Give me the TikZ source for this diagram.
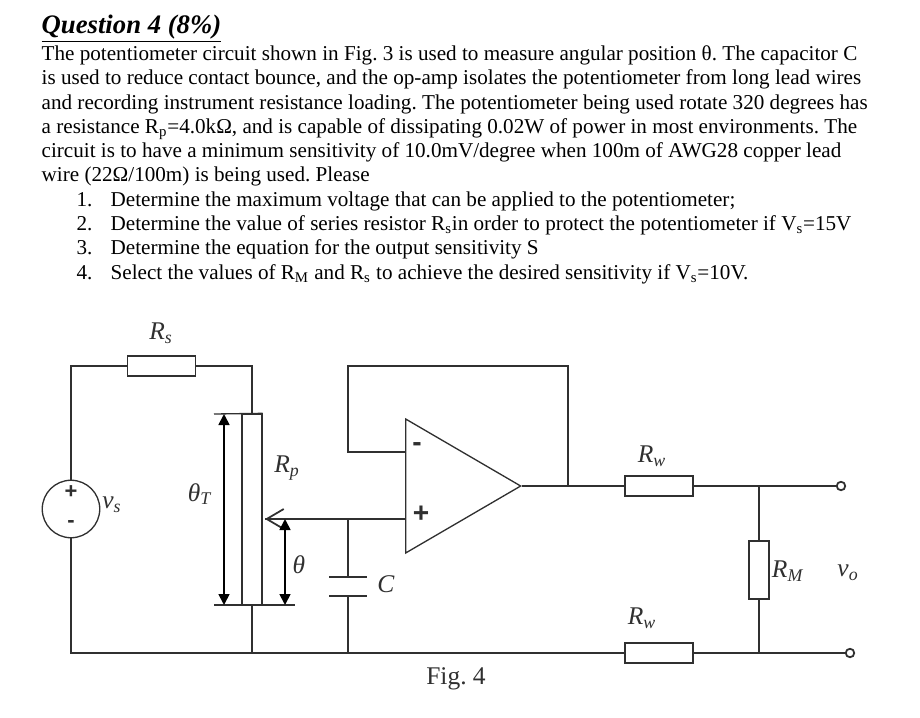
\documentclass[tikz,border=0pt]{standalone}
\usepackage{fontspec}
\setmainfont{Liberation Serif}
\setsansfont{Liberation Sans}
\usepackage{tikz}
\usetikzlibrary{arrows.meta, shapes.geometric}
\definecolor{wirecol}{HTML}{303030}
\newcommand{\lab}[2]{\textit{#1}\textsubscript{\textit{#2}}}

\begin{document}
\frenchspacing
\begin{tikzpicture}
	[%
	x=0.2mm, y=-0.2mm, line width=0.75pt, draw=wirecol,%
	line/.style    ={anchor=base west,	inner sep=0pt,	font=\fontsize{12.03}{15}\selectfont},%
	res/.style     ={rectangle,	draw=wirecol,	fill=white,	inner sep=0pt,	minimum width=13.6mm,	minimum height=4mm},%
	value/.style   ={inner sep=0pt,	text=wirecol,	font=\fontsize{14.5}{17}\selectfont},%
	sign/.style    ={inner sep=0pt,	text=wirecol,	font=\sffamily\bfseries\fontsize{12.5}{15}\selectfont},%
	bigsign/.style ={sign,	font=\sffamily\bfseries\fontsize{16}{18}\selectfont},%
	terminal/.style={circle,	draw=wirecol,	fill=white,	line width=1pt,	inner sep=0pt,	minimum size=1.7mm},%
	dim/.style     ={{Triangle[length=2.2mm,width=2.2mm]}-{Triangle[length=2.2mm,width=2.2mm]},	draw=black,	line width=1pt},%
	]
	\useasboundingbox (0,0) rectangle (920,718);

	% question text
	\node (title) at (41,33) [line, font=\bfseries\itshape\fontsize{15.2}{17}\selectfont] {\underline{Question 4 (8\%)}};
	\node (text0) at (41,60) [line] {The potentiometer circuit shown in Fig. 3 is used to measure angular position θ. The capacitor C};
	\node (text1) at (41,84.5) [line] {is used to reduce contact bounce, and the op-amp isolates the potentiometer from long lead wires};
	\node (text2) at (41,109) [line] {and recording instrument resistance loading. The potentiometer being used rotate 320 degrees has};
	\node (text3) at (41,133) [line] {a resistance R\textsubscript{p}=4.0kΩ, and is capable of dissipating 0.02W of power in most environments. The};
	\node (text4) at (41,157.5) [line] {circuit is to have a minimum sensitivity of 10.0mV/degree when 100m of AWG28 copper lead};
	\node (text5) at (41,181.5) [line] {wire (22Ω/100m) is being used. Please};

	\foreach \i/\y in {1/206,2/230,3/254.5,4/279} \node (num\i) at (76,\y) [line] {\i.};
	\node (item1) at (110,206) [line] {Determine the maximum voltage that can be applied to the potentiometer;};
	\node (item2) at (110,230) [line] {Determine the value of series resistor R\textsubscript{s}in order to protect the potentiometer if V\textsubscript{s}=15V};
	\node (item3) at (110,254.5) [line] {Determine the equation for the output sensitivity S};
	\node (item4) at (110,279) [line] {Select the values of R\textsubscript{M} and R\textsubscript{s} to achieve the desired sensitivity if V\textsubscript{s}=10V.};

	% components
	\node (vsrc) at (71,509) [circle, draw=wirecol, inner sep=0pt, minimum size=11.5mm] {};
	\node (rs)   at (161.5,366) [res] {};
	\node (pot)  at (252,509.5) [rectangle, draw=wirecol, inner sep=0pt, minimum width=4mm, minimum height=38.2mm] {};
	\node (oa)   at (405,486) [isosceles triangle, isosceles triangle stretches, shape border rotate=0, draw=wirecol, inner sep=0pt, minimum height=23mm, minimum width=26.8mm, anchor=lower side] {};
	\node (rw1)  at (659,486) [res] {};
	\node (rw2)  at (659,653) [res] {};
	\node (rm)   at (759,570) [res, minimum width=4mm, minimum height=11.6mm] {};
	\node (out1) at (841,486) [terminal] {};
	\node (out2) at (850,653) [terminal] {};

	\coordinate (oaminus) at (405,452);
	\coordinate (oaplus)  at (405,519);
	\coordinate (wiper)   at (265,519);
	\coordinate (capA)    at (348,577);
	\coordinate (capB)    at (348,596);
	\coordinate (fbA)     at (348,366);
	\coordinate (fbB)     at (568,366);
	\coordinate (fbC)     at (568,486);
	\coordinate (tickA)   at (214,414);
	\coordinate (tickB)   at (214,605);
	\coordinate (tickC)   at (295,605);
	\coordinate (dimA)    at (224,414);
	\coordinate (dimB)    at (224,605);
	\coordinate (dimC)    at (285,519);
	\coordinate (dimD)    at (285,605);

	% interconnections
	\draw (vsrc.north) |- (rs.west);
	\draw (rs.east) -| (pot.north);
	\draw (vsrc.south) |- (rw2.west);
	\draw (pot.south) -- (pot.south |- rw2.west);
	\draw (rw2.east) -- (out2.west);
	\draw (oa.apex) -- (rw1.west);
	\draw (rw1.east) -- (out1.west);
	\draw (rw1.east -| rm.north) -- (rm.north);
	\draw (rm.south) -- (rm.south |- rw2.east);
	\draw (oaminus) -| (fbA) -- (fbB) -- (fbC);
	\draw (oaplus) -- (wiper);
	\draw [-{Straight Barb[length=3.4mm,width=4mm,line width=1pt]}, line width=0.9pt] (capA |- oaplus) -- (wiper);
	\draw (capA |- oaplus) -- (capA);
	\draw (capB) -- (capB |- rw2.west);
	\foreach \c in {capA,capB} \draw ([xshift=-3.8mm]\c) -- ([xshift=3.8mm]\c);

	% potentiometer scale
	\draw (tickA) -- (pot.north east);
	\draw (tickB) -- (tickC);
	\draw [dim] (dimA) -- (dimB);
	\draw [dim] (dimC) -- (dimD);

	% labels
	\node (plusS)   at (71,492) [sign] {+};
	\node (minusS)  at (71,524) [sign] {-};
	\node (plusO)   at (421,514) [bigsign] {+};
	\node (minusO)  at (417,447) [bigsign] {-};
	\node (labRs)   at (161,333) [value] {\lab{R}{s}};
	\node (labVs)   at (112,505) [value] {\lab{v}{s}};
	\node (labTt)   at (200,494) [value] {\lab{θ}{T}};
	\node (labRp)   at (287,468) [value] {\lab{R}{p}};
	\node (labT)    at (299,565) [value] {\textit{θ}};
	\node (labC)    at (386,584) [value] {\textit{C}};
	\node (labRw1)  at (652,456) [value] {\lab{R}{w}};
	\node (labRw2)  at (642,618) [value] {\lab{R}{w}};
	\node (labRm)   at (788,571) [value] {\lab{R}{M}};
	\node (labVo)   at (848,573) [value] {\lab{v}{o}};
	\node (fig)     at (456,679) [value] {Fig. 4};
\end{tikzpicture}
\end{document}
